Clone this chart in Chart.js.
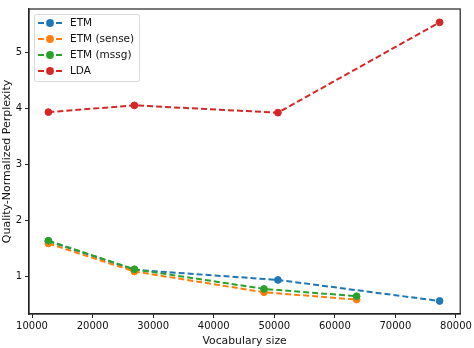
<!DOCTYPE html>
<html>
<head>
<meta charset="utf-8">
<script src="https://cdn.jsdelivr.net/npm/chart.js@4"></script>
<style>
html,body{margin:0;padding:0;background:#fff;}
#wrap{position:relative;width:474px;height:348px;}
</style>
</head>
<body>
<div id="wrap"><canvas id="c" width="474" height="348"></canvas></div>
<script>
const seriesNames = ["ETM", "ETM (sense)", "ETM (mssg)", "LDA"];
const seriesColors = ["#1f77b4", "#ff7f0e", "#2ca02c", "#d62728"];
const etmX = [12700, 26900, 50600, 77300];
const etmY = [1.63, 1.12, 0.94, 0.565];
const senseX = [12700, 26900, 48300, 63600];
const senseY = [1.59, 1.09, 0.72, 0.59];
const mssgX = [12700, 26900, 48300, 63600];
const mssgY = [1.64, 1.13, 0.78, 0.65];
const ldaX = [12700, 26900, 50600, 77300];
const ldaY = [3.93, 4.05, 3.92, 5.53];
const xTicks = [10000, 20000, 30000, 40000, 50000, 60000, 70000, 80000];
const yTicks = [1, 2, 3, 4, 5];

const FONT = "'DejaVu Sans', sans-serif";
const toPts = (xs, ys) => xs.map((x, i) => ({x: x, y: ys[i]}));
const allX = [etmX, senseX, mssgX, ldaX];
const allY = [etmY, senseY, mssgY, ldaY];

function mkDs(i) {
  const c = seriesColors[i];
  return {
    label: seriesNames[i],
    data: toPts(allX[i], allY[i]),
    borderColor: c,
    backgroundColor: c,
    borderWidth: 2,
    borderDash: [6, 3],
    pointRadius: 3.4,
    pointHoverRadius: 3.4,
    pointBackgroundColor: c,
    pointBorderColor: c,
    pointBorderWidth: 1,
    showLine: true,
    fill: false,
    tension: 0,
    order: 3 - i
  };
}

const framePlugin = {
  id: 'frame',
  afterDatasetsDraw(chart) {
    const {ctx, chartArea: a} = chart;
    ctx.save();
    ctx.strokeStyle = '#222';
    ctx.lineWidth = 1.2;
    ctx.strokeRect(a.left, a.top, a.right - a.left, a.bottom - a.top);
    ctx.restore();
  },
  afterDraw(chart) {
    const {ctx, chartArea: a} = chart;
    ctx.save();
    const bx = a.left + 5, by = a.top + 5, bw = 105, bh = 67;
    ctx.fillStyle = 'rgba(255,255,255,0.85)';
    ctx.strokeStyle = '#d8d8d8';
    ctx.lineWidth = 1;
    ctx.beginPath();
    if (ctx.roundRect) ctx.roundRect(bx + 0.5, by + 0.5, bw, bh, 2); else ctx.rect(bx + 0.5, by + 0.5, bw, bh);
    ctx.fill();
    ctx.stroke();
    ctx.font = "10.5px " + FONT;
    ctx.textBaseline = 'middle';
    for (let i = 0; i < seriesNames.length; i++) {
      const yy = by + 9 + i * 16;
      const c = seriesColors[i];
      ctx.strokeStyle = c;
      ctx.lineWidth = 2;
      ctx.setLineDash([6, 3]);
      ctx.beginPath();
      ctx.moveTo(bx + 4, yy);
      ctx.lineTo(bx + 28, yy);
      ctx.stroke();
      ctx.setLineDash([]);
      ctx.fillStyle = c;
      ctx.beginPath();
      ctx.arc(bx + 16, yy, 3.9, 0, Math.PI * 2);
      ctx.fill();
      ctx.fillStyle = '#111';
      ctx.fillText(seriesNames[i], bx + 36, yy + 0.5);
    }
    ctx.restore();
  }
};

new Chart(document.getElementById('c'), {
  type: 'scatter',
  data: { datasets: [0, 1, 2, 3].map(mkDs) },
  plugins: [framePlugin],
  options: {
    responsive: false,
    animation: false,
    layout: { padding: { left: 0, right: 12, top: 2, bottom: 0 } },
    plugins: { legend: { display: false }, tooltip: { enabled: false } },
    scales: {
      x: {
        type: 'linear',
        min: 9500,
        max: 80700,
        afterBuildTicks: s => { s.ticks = xTicks.map(v => ({value: v})); },
        afterFit: s => { s.height = 34; },
        grid: { drawOnChartArea: false, drawTicks: true, tickLength: 4, color: '#222' },
        border: { display: true, color: '#222', width: 1.2 },
        ticks: { color: '#111', font: { family: FONT, size: 10 }, padding: 2, maxRotation: 0, autoSkip: false, callback: v => String(v) },
        title: { display: true, text: 'Vocabulary size', color: '#111', font: { family: FONT, size: 10.8 }, padding: { top: 0, bottom: 0 } }
      },
      y: {
        type: 'linear',
        min: 0.333,
        max: 5.767,
        afterBuildTicks: s => { s.ticks = yTicks.map(v => ({value: v})); },
        afterFit: s => { s.width = 29; },
        grid: { drawOnChartArea: false, drawTicks: true, tickLength: 4, color: '#222' },
        border: { display: true, color: '#222', width: 1.2 },
        ticks: { color: '#111', font: { family: FONT, size: 10 }, padding: 3, callback: v => String(v) },
        title: { display: true, text: 'Quality-Normalized Perplexity', color: '#111', font: { family: FONT, size: 11 }, padding: { top: 1, bottom: 0 } }
      }
    }
  }
});
</script>
</body>
</html>
